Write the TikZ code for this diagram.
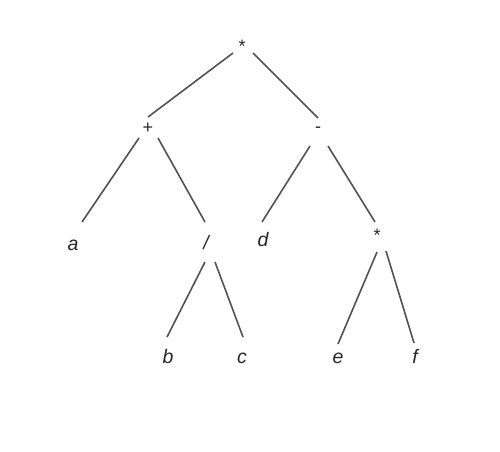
\documentclass[tikz,border=0pt]{standalone}
\usepackage{fontspec}
\setmainfont{Liberation Sans}
\begin{document}
\begin{tikzpicture}[x=1pt,y=-1pt,
  lbl/.style={inner sep=0pt,text height=15pt,text depth=5pt,font=\fontsize{19.5}{22}\selectfont\itshape,text=black!85},
  op/.style={inner sep=0pt,font=\fontsize{18}{20}\selectfont,text=black!85},
  edge/.style={draw=black!68,line width=1.6pt}]
\useasboundingbox (0,0) rectangle (500,451);
\node[op]  (root)  at (242,46)  {*};
\node[op]  (plus)  at (148,128) {+};
\node[op]  (minus) at (318,130) {-};
\node[lbl] (a)     at (73,245)  {a};
\node[lbl] (slash) at (206,244) {/};
\node[lbl] (d)     at (263,241) {d};
\node[op]  (star)  at (377,235) {*};
\node[lbl] (b)     at (168,358) {b};
\node[lbl] (c)     at (242,358) {c};
\node[lbl] (e)     at (338,358) {e};
\node[lbl] (f)     at (415,358) {f};
\draw[edge] ([shift={(-9,7)}]root.center) -- ([shift={(0,-11)}]plus.center);
\draw[edge] ([shift={(11,7)}]root.center) -- ([shift={(0,-12)}]minus.center);
\draw[edge] ([shift={(-9,10)}]plus.center) -- ([shift={(9,-23)}]a.center);
\draw[edge] ([shift={(10,10)}]plus.center) -- ([shift={(-1,-22)}]slash.center);
\draw[edge] ([shift={(-8,16)}]minus.center) -- ([shift={(-1,-19)}]d.center);
\draw[edge] ([shift={(10,16)}]minus.center) -- ([shift={(-2,-13)}]star.center);
\draw[edge] ([shift={(-1,18)}]slash.center) -- ([shift={(-1,-21)}]b.center);
\draw[edge] ([shift={(9,18)}]slash.center) -- ([shift={(1,-21)}]c.center);
\draw[edge] ([shift={(0,17)}]star.center) -- ([shift={(0,-14)}]e.center);
\draw[edge] ([shift={(9,16)}]star.center) -- ([shift={(-1,-15)}]f.center);
\end{tikzpicture}
\end{document}
